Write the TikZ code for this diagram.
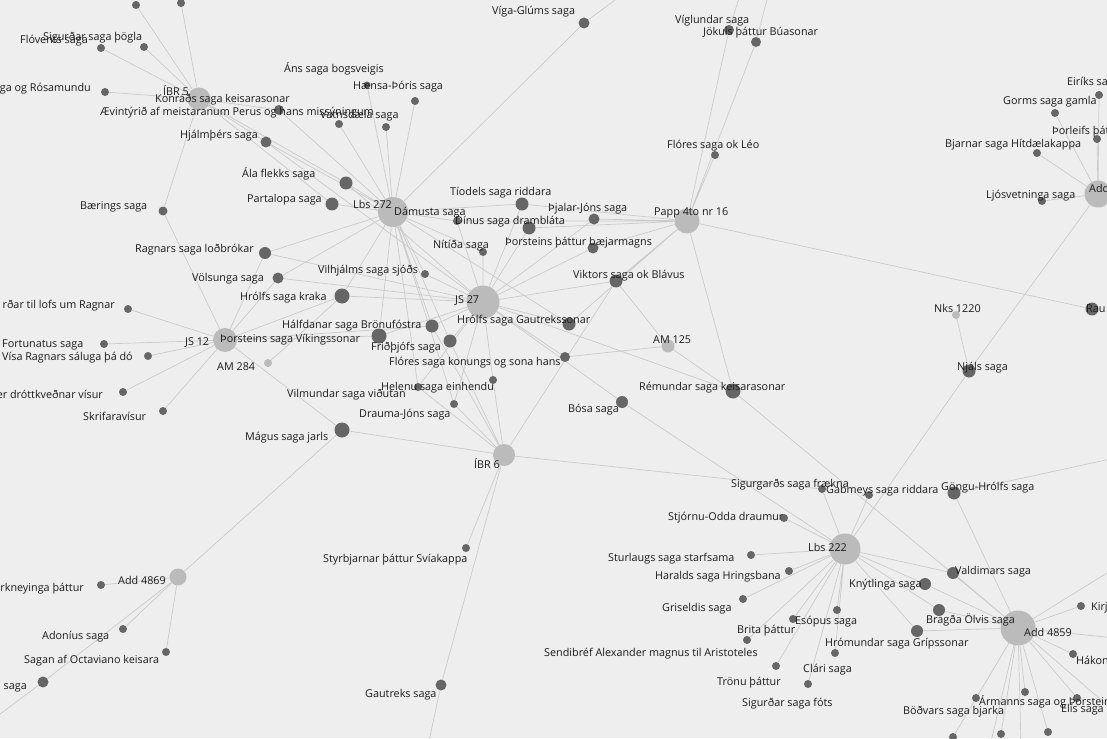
\documentclass[tikz,border=0pt]{standalone}
\usepackage{fontspec}
\setmainfont{Open Sans}
\usepackage{tikz}
\usetikzlibrary{backgrounds}
\definecolor{paper}{HTML}{EEEEEE}
\definecolor{dotgray}{HTML}{666666}
\definecolor{hubgray}{HTML}{BBBBBB}
\definecolor{wiregray}{HTML}{CACACA}
\definecolor{ink}{HTML}{1A1A1A}
\tikzset{
  textdot/.style={circle, fill=dotgray, inner sep=0pt, minimum size=#1},
  textdot/.default=8pt,
  hubdot/.style={circle, fill=hubgray, inner sep=0pt, minimum size=#1},
  hubdot/.default=24pt,
  wire/.style={draw=wiregray, line width=0.7pt},
  lbl/.style={font=\fontsize{10.8}{12}\selectfont, text=ink, inner sep=0pt,
    text height=7.7pt, text depth=2.4pt, anchor=west, yshift=-2pt},
  lblr/.style={lbl, anchor=east},
}

\begin{document}
\begin{tikzpicture}[x=1pt, y=-1pt]
\useasboundingbox (0,0) rectangle (1107,738);

% manuscripts
\node[hubdot=23pt] (ibr5) at (199,99) {};
\node[hubdot=30pt] (lbs272) at (393,212) {};
\node[hubdot=33pt] (js27) at (483,302) {};
\node[hubdot=25pt] (papp) at (687,221) {};
\node[hubdot=24pt] (js12) at (225,340) {};
\node[hubdot=8pt] (am284) at (268,363) {};
\node[hubdot=13pt] (am125) at (668,346) {};
\node[hubdot=22pt] (ibr6) at (504,455) {};
\node[hubdot=17pt] (add4869) at (178,577) {};
\node[hubdot=8pt] (nks1220) at (956,315) {};
\node[hubdot=31pt] (lbs222) at (845,549) {};
\node[hubdot=35pt] (add4859) at (1018,628) {};
\node[hubdot=27pt] (addne) at (1098,194) {};

% texts, upper left
\node[textdot] (topa) at (136,5) {};
\node[textdot] (topb) at (181,3) {};
\node[textdot] (sigthogla) at (144,47) {};
\node[textdot] (flovents) at (101,48) {};
\node[textdot] (elis) at (105,92) {};
\node[textdot=10pt] (konrads) at (279,110) {};
\node[textdot=11pt] (hjalmthers) at (266,142) {};
\node[textdot=9pt] (baerings) at (163,211) {};
\node[textdot=7pt] (ans) at (367,85) {};
\node[textdot] (haensa) at (415,101) {};
\node[textdot] (vatnsdaela) at (386,127) {};
\node[textdot] (aevintyri) at (339,124) {};
\node[textdot=13pt] (ala) at (346,183) {};
\node[textdot=13pt] (partalopa) at (332,204) {};

% texts, upper middle
\node[textdot=11pt] (vigaglums) at (584,23) {};
\node[textdot=10pt] (viglundar) at (729,30) {};
\node[textdot=10pt] (jokuls) at (756,42) {};
\node[textdot] (floresleo) at (715,155) {};
\node[textdot=13pt] (tiodels) at (522,204) {};
\node[textdot] (dinus) at (457,221) {};
\node[textdot=13pt] (thorstb) at (529,228) {};
\node[textdot=11pt] (thjalar) at (594,219) {};
\node[textdot=11pt] (baejarm) at (593,248) {};
\node[textdot] (nitida) at (483,252) {};
\node[textdot] (vilhjalms) at (425,274) {};
\node[textdot=12pt] (ragnars) at (265,253) {};
\node[textdot=11pt] (volsunga) at (278,278) {};
\node[textdot=15pt] (hrolfskraka) at (342,296) {};
\node[textdot=15pt] (thorstvik) at (379,336) {};
\node[textdot=13pt] (halfdanar) at (432,326) {};
\node[textdot=13pt] (fridthjofs) at (450,341) {};
\node[textdot=13pt] (hrolfsg) at (569,324) {};
\node[textdot=10pt] (floresk) at (565,357) {};
\node[textdot] (helenu) at (493,380) {};
\node[textdot] (vilmundar) at (418,387) {};
\node[textdot] (drauma) at (454,404) {};
\node[textdot=15pt] (magus) at (342,430) {};
\node[textdot=13pt] (viktors) at (616,281) {};
\node[textdot=15pt] (remundar) at (733,391) {};
\node[textdot=12pt] (bosa) at (622,402) {};

% texts round JS 12
\node[textdot] (lofs) at (128,309) {};
\node[textdot] (fortunatus) at (104,344) {};
\node[textdot] (visa) at (148,356) {};
\node[textdot] (drott) at (123,392) {};
\node[textdot] (skrifara) at (163,411) {};

% texts round Add 4869 and lower middle
\node[textdot] (orkn) at (101,585) {};
\node[textdot] (adonius) at (123,629) {};
\node[textdot] (octaviano) at (166,652) {};
\node[textdot=11pt] (sagaw) at (43,682) {};
\node[textdot] (styrbjarnar) at (466,548) {};
\node[textdot=11pt] (gautreks) at (441,685) {};

% texts, right
\node[textdot] (sigurgards) at (822,489) {};
\node[textdot] (gabmeys) at (869,495) {};
\node[textdot=13pt] (gongu) at (954,493) {};
\node[textdot=13pt] (njals) at (969,371) {};
\node[textdot=13pt] (rauth) at (1092,309) {};
\node[textdot] (eiriks) at (1099,95) {};
\node[textdot] (gorms) at (1055,113) {};
\node[textdot] (thorleifs) at (1097,139) {};
\node[textdot] (bjarnar) at (1037,153) {};
\node[textdot] (ljosv) at (1042,201) {};
\node[textdot] (stjornu) at (784,518) {};
\node[textdot] (sturlaugs) at (751,555) {};
\node[textdot] (haralds) at (789,571) {};
\node[textdot] (griseldis) at (743,599) {};
\node[textdot] (esopus) at (793,619) {};
\node[textdot] (esopusb) at (837,610) {};
\node[textdot] (brita) at (747,640) {};
\node[textdot] (clari) at (835,653) {};
\node[textdot] (tronu) at (776,666) {};
\node[textdot] (sigfots) at (808,684) {};
\node[textdot=12pt] (valdimars) at (953,573) {};
\node[textdot=12pt] (knytlinga) at (925,584) {};
\node[textdot=12pt] (bragda) at (939,610) {};
\node[textdot=12pt] (hromundar) at (917,631) {};
\node[textdot] (kirj) at (1081,606) {};
\node[textdot] (hakon) at (1073,654) {};
\node[textdot] (armanns) at (976,698) {};
\node[textdot] (bodvars) at (1025,692) {};
\node[textdot] (elisb) at (1077,698) {};
\node[textdot] (bota) at (953,737) {};
\node[textdot] (botb) at (1001,734) {};
\node[textdot] (botc) at (1048,732) {};

% free ends beyond the frame
\coordinate (vgout) at (626,-8);
\coordinate (vlout) at (741,-8);
\coordinate (jkout) at (769,-8);
\coordinate (swout) at (-8,720);
\coordinate (gtout) at (428,746);
\coordinate (ghout) at (1115,458);
\coordinate (addout1) at (1115,568);
\coordinate (addout2) at (1115,638);
\coordinate (addout3) at (1115,712);
\coordinate (addout4) at (990,746);
\coordinate (addout5) at (1021,746);

\begin{scope}[on background layer]
\fill[paper] (0,0) rectangle (1107,738);
% ÍBR 5
\draw[wire] (ibr5) -- (topa) (ibr5) -- (topb) (ibr5) -- (sigthogla)
  (ibr5) -- (flovents) (ibr5) -- (elis) (ibr5) -- (konrads)
  (ibr5) -- (hjalmthers) (ibr5) -- (ala) (ibr5) -- (partalopa)
  (ibr5) -- (baerings);
% Lbs 272
\draw[wire] (lbs272) -- (ans) (lbs272) -- (haensa) (lbs272) -- (vatnsdaela)
  (lbs272) -- (aevintyri) (lbs272) -- (konrads) (lbs272) -- (hjalmthers)
  (lbs272) -- (ala) (lbs272) -- (partalopa) (lbs272) -- (vigaglums)
  (lbs272) -- (tiodels) (lbs272) -- (dinus) (lbs272) -- (nitida)
  (lbs272) -- (ragnars) (lbs272) -- (volsunga) (lbs272) -- (vilhjalms)
  (lbs272) -- (hrolfskraka) (lbs272) -- (thorstvik) (lbs272) -- (halfdanar)
  (lbs272) -- (fridthjofs) (lbs272) -- (vilmundar) (lbs272) -- (drauma)
  (lbs272) -- (hrolfsg);
% JS 27
\draw[wire] (js27) -- (hjalmthers) (js27) -- (ala) (js27) -- (dinus)
  (js27) -- (tiodels) (js27) -- (thorstb) (js27) -- (nitida)
  (js27) -- (thjalar) (js27) -- (baejarm) (js27) -- (viktors)
  (js27) -- (hrolfsg) (js27) -- (floresk) (js27) -- (bosa)
  (js27) -- (remundar) (js27) -- (helenu) (js27) -- (vilmundar)
  (js27) -- (drauma) (js27) -- (fridthjofs) (js27) -- (halfdanar)
  (js27) -- (vilhjalms) (js27) -- (hrolfskraka) (js27) -- (volsunga)
  (js27) -- (ragnars) (js27) -- (thorstvik);
% Papp 4to nr 16
\draw[wire] (papp) -- (viglundar) (papp) -- (jokuls) (papp) -- (floresleo)
  (papp) -- (thjalar) (papp) -- (tiodels) (papp) -- (dinus)
  (papp) -- (thorstb) (papp) -- (baejarm) (papp) -- (viktors)
  (papp) -- (hrolfsg) (papp) -- (remundar) (papp) -- (rauth);
% JS 12, AM 284, AM 125
\draw[wire] (js12) -- (baerings) (js12) -- (ragnars) (js12) -- (volsunga)
  (js12) -- (hrolfskraka) (js12) -- (thorstvik) (js12) -- (halfdanar)
  (js12) -- (lofs) (js12) -- (fortunatus) (js12) -- (visa)
  (js12) -- (drott) (js12) -- (skrifara) (js12) -- (magus);
\draw[wire] (am284) -- (hrolfskraka);
\draw[wire] (am125) -- (viktors) (am125) -- (remundar) (am125) -- (floresk);
% ÍBR 6
\draw[wire] (ibr6) -- (magus) (ibr6) -- (drauma) (ibr6) -- (helenu)
  (ibr6) -- (fridthjofs) (ibr6) -- (halfdanar) (ibr6) -- (viktors)
  (ibr6) -- (styrbjarnar) (ibr6) -- (gautreks) (ibr6) -- (sigurgards)
  (ibr6) -- (vilmundar);
% Add 4869
\draw[wire] (add4869) -- (magus) (add4869) -- (orkn) (add4869) -- (adonius)
  (add4869) -- (octaviano) (add4869) -- (sagaw);
% Lbs 222
\draw[wire] (lbs222) -- (sigurgards) (lbs222) -- (gabmeys) (lbs222) -- (stjornu)
  (lbs222) -- (sturlaugs) (lbs222) -- (haralds) (lbs222) -- (griseldis)
  (lbs222) -- (esopus) (lbs222) -- (esopusb) (lbs222) -- (brita)
  (lbs222) -- (clari) (lbs222) -- (tronu) (lbs222) -- (sigfots)
  (lbs222) -- (knytlinga) (lbs222) -- (bragda) (lbs222) -- (hromundar)
  (lbs222) -- (valdimars) (lbs222) -- (njals) (lbs222) -- (bosa);
% Add 4859
\draw[wire] (add4859) -- (valdimars) (add4859) -- (knytlinga)
  (add4859) -- (bragda) (add4859) -- (hromundar) (add4859) -- (gongu)
  (add4859) -- (remundar) (add4859) -- (kirj) (add4859) -- (hakon)
  (add4859) -- (armanns) (add4859) -- (bodvars) (add4859) -- (elisb)
  (add4859) -- (bota) (add4859) -- (botb) (add4859) -- (botc)
  (add4859) -- (addout1) (add4859) -- (addout2) (add4859) -- (addout3)
  (add4859) -- (addout4) (add4859) -- (addout5);
% Add, upper right, and Nks 1220
\draw[wire] (addne) -- (eiriks) (addne) -- (gorms) (addne) -- (thorleifs)
  (addne) -- (bjarnar) (addne) -- (ljosv) (addne) -- (njals);
\draw[wire] (nks1220) -- (njals);
% lines leaving the frame
\draw[wire] (vigaglums) -- (vgout) (viglundar) -- (vlout) (jokuls) -- (jkout)
  (sagaw) -- (swout) (gautreks) -- (gtout) (gongu) -- (ghout);
\end{scope}

% labels
\node[lbl] (sigthogla-t) at (43,36) {Sigurðar saga þögla};
\node[lbl] (flovents-t) at (20,39) {Flóvents saga};
\node[lblr] (elis-t) at (91,87) {saga og Rósamundu};
\node[lbl] (ibr5-t) at (163,91) {ÍBR 5};
\node[lbl] (konrads-t) at (155,98) {Konráðs saga keisarasonar};
\node[lbl] (aevintyri-t) at (100,111) {Ævintýrið af meistaranum Perus og hans missýningum};
\node[lbl] (hjalmthers-t) at (180,134) {Hjálmþérs saga};
\node[lbl] (ans-t) at (284,68) {Áns saga bogsveigis};
\node[lbl] (haensa-t) at (353,85) {Hænsa-Þóris saga};
\node[lbl] (vatnsdaela-t) at (320,114) {Vatnsdæla saga};
\node[lbl] (ala-t) at (242,173) {Ála flekks saga};
\node[lbl] (partalopa-t) at (247,198) {Partalopa saga};
\node[lbl] (baerings-t) at (80,205) {Bærings saga};
\node[lbl] (lbs272-t) at (353,204) {Lbs 272};
\node[lbl] (damusta-t) at (394,211) {Dámusta saga};
\node[lbl] (vigaglums-t) at (492,10) {Víga-Glúms saga};
\node[lbl] (viglundar-t) at (675,19) {Víglundar saga};
\node[lbl] (jokuls-t) at (703,31) {Jökuls þáttur Búasonar};
\node[lbl] (floresleo-t) at (667,144) {Flóres saga ok Léo};
\node[lbl] (tiodels-t) at (450,191) {Tíodels saga riddara};
\node[lbl] (thjalar-t) at (548,207) {Þjalar-Jóns saga};
\node[lbl] (papp-t) at (654,211) {Papp 4to nr 16};
\node[lbl] (dinus-t) at (455,220) {Dínus saga drambláta};
\node[lbl] (thorstb-t) at (505,241) {Þorsteins þáttur bæjarmagns};
\node[lbl] (nitida-t) at (433,244) {Nítíða saga};
\node[lbl] (ragnars-t) at (135,248) {Ragnars saga loðbrókar};
\node[lbl] (vilhjalms-t) at (318,269) {Vilhjálms saga sjóðs};
\node[lbl] (volsunga-t) at (192,277) {Völsunga saga};
\node[lbl] (viktors-t) at (573,274) {Viktors saga ok Blávus};
\node[lbl] (hrolfskraka-t) at (240,296) {Hrólfs saga kraka};
\node[lbl] (js27-t) at (455,299) {JS 27};
\node[lblr] (lofs-t) at (115,304) {rðar til lofs um Ragnar};
\node[lbl] (nks1220-t) at (934,308) {Nks 1220};
\node[lbl] (rauth-t) at (1086,308) {Rau};
\node[lbl] (hrolfsg-t) at (457,319) {Hrólfs saga Gautrekssonar};
\node[lbl] (halfdanar-t) at (282,324) {Hálfdanar saga Brönufóstra};
\node[lbl] (am125-t) at (653,339) {AM 125};
\node[lbl] (js12-t) at (185,341) {JS 12};
\node[lbl] (thorstvik-t) at (220,338) {Þorsteins saga Víkingssonar};
\node[lbl] (fortunatus-t) at (2,343) {Fortunatus saga};
\node[lbl] (fridthjofs-t) at (371,346) {Friðþjófs saga};
\node[lbl] (visa-t) at (2,356) {Vísa Ragnars sáluga þá dó};
\node[lbl] (floresk-t) at (389,361) {Flóres saga konungs og sona hans};
\node[lbl] (njals-t) at (957,366) {Njáls saga};
\node[lbl] (am284-t) at (217,366) {AM 284};
\node[lbl] (helenu-t) at (381,386) {Helenu saga einhendu};
\node[lbl] (remundar-t) at (639,386) {Rémundar saga keisarasonar};
\node[lblr] (drott-t) at (103,394) {er dróttkveðnar vísur};
\node[lbl] (vilmundar-t) at (287,393) {Vilmundar saga viðutan};
\node[lbl] (bosa-t) at (568,408) {Bósa saga};
\node[lbl] (drauma-t) at (359,413) {Drauma-Jóns saga};
\node[lbl] (skrifara-t) at (83,416) {Skrifaravísur};
\node[lbl] (magus-t) at (245,436) {Mágus saga jarls};
\node[lbl] (ibr6-t) at (474,464) {ÍBR 6};
\node[lbl] (sigurgards-t) at (731,483) {Sigurgarðs saga frækna};
\node[lbl] (gabmeys-t) at (826,489) {Gabmeys saga riddara};
\node[lbl] (gongu-t) at (941,486) {Göngu-Hrólfs saga};
\node[lbl] (stjornu-t) at (668,516) {Stjórnu-Odda draumur};
\node[lbl] (lbs222-t) at (808,547) {Lbs 222};
\node[lbl] (styrbjarnar-t) at (323,558) {Styrbjarnar þáttur Svíakappa};
\node[lbl] (sturlaugs-t) at (608,557) {Sturlaugs saga starfsama};
\node[lbl] (valdimars-t) at (955,570) {Valdimars saga};
\node[lbl] (haralds-t) at (655,575) {Haralds saga Hringsbana};
\node[lbl] (add4869-t) at (118,580) {Add 4869};
\node[lbl] (knytlinga-t) at (849,583) {Knýtlinga saga};
\node[lblr] (orkn-t) at (84,587) {rkneyinga þáttur};
\node[lbl] (griseldis-t) at (662,607) {Griseldis saga};
\node[lbl] (kirj-t) at (1091,606) {Kirj};
\node[lbl] (bragda-t) at (926,619) {Bragða Ölvis saga};
\node[lbl] (esopus-t) at (795,620) {Esópus saga};
\node[lbl] (brita-t) at (737,629) {Brita þáttur};
\node[lbl] (add4859-t) at (1024,632) {Add 4859};
\node[lbl] (adonius-t) at (42,635) {Adoníus saga};
\node[lbl] (hromundar-t) at (825,642) {Hrómundar saga Grípssonar};
\node[lbl] (sendibref-t) at (544,652) {Sendibréf Alexander magnus til Aristoteles};
\node[lbl] (octaviano-t) at (24,659) {Sagan af Octaviano keisara};
\node[lbl] (hakon-t) at (1076,660) {Hákon};
\node[lbl] (clari-t) at (803,668) {Clári saga};
\node[lbl] (tronu-t) at (717,681) {Trönu þáttur};
\node[lblr] (sagaw-t) at (27,685) {saga};
\node[lbl] (gautreks-t) at (365,693) {Gautreks saga};
\node[lbl] (armanns-t) at (979,701) {Ármanns saga og Þorsteins};
\node[lbl] (sigfots-t) at (742,702) {Sigurðar saga fóts};
\node[lbl] (elisb-t) at (1061,708) {Elís saga};
\node[lbl] (bodvars-t) at (903,710) {Böðvars saga bjarka};
\node[lbl] (eiriks-t) at (1067,81) {Eiríks saga};
\node[lbl] (gorms-t) at (1003,100) {Gorms saga gamla};
\node[lbl] (thorleifs-t) at (1052,130) {Þorleifs þáttur};
\node[lbl] (bjarnar-t) at (945,143) {Bjarnar saga Hítdælakappa};
\node[lbl] (addne-t) at (1089,188) {Add};
\node[lbl] (ljosv-t) at (986,194) {Ljósvetninga saga};
\end{tikzpicture}
\end{document}
